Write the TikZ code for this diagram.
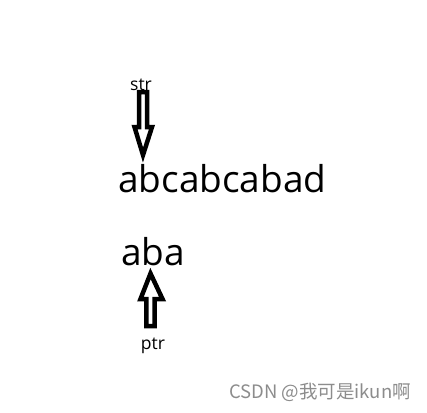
\documentclass[tikz,border=0pt]{standalone}
\usepackage{fontspec}
\setmainfont{Open Sans}
\newfontfamily\cjk{Noto Sans CJK SC}
\begin{document}
\begin{tikzpicture}[x=1pt,y=-1pt,
  blockarrow/.style={draw=black,line width=4.5pt,fill=white,line join=miter,miter limit=20},
  bigtext/.style={anchor=base west,inner sep=0pt,font=\fontsize{37}{40}\selectfont},
  lbl/.style={anchor=base,inner sep=0pt,font=\fontsize{17.5}{19}\selectfont},
  wmark/.style={anchor=base east,inner sep=0pt,text=black!45,font=\cjk\fontsize{18.5}{20}\selectfont}]
\useasboundingbox (0,0) rectangle (427,412);
% texts
\node[bigtext] (main) at (118,192) {abcabcabad};
\node[bigtext] (pat) at (121,265) {aba};
\node[lbl] (str) at (141,90) {str};
\node[lbl] (ptr) at (153,349) {ptr};
\node[wmark] (wm) at (411,398) {CSDN @我可是ikun啊};
% top block arrow (pointing down)
\draw[blockarrow] (139,92) -- (147,92) -- (147,127) -- (152,127) -- (143,155) -- (134.5,127) -- (139,127) -- cycle;
% bottom block arrow (pointing up)
\draw[blockarrow] (146.3,326) -- (146.3,299) -- (140.5,299) -- (150.5,273.5) -- (162.5,299) -- (154.7,299) -- (154.7,326) -- cycle;
\end{tikzpicture}
\end{document}
